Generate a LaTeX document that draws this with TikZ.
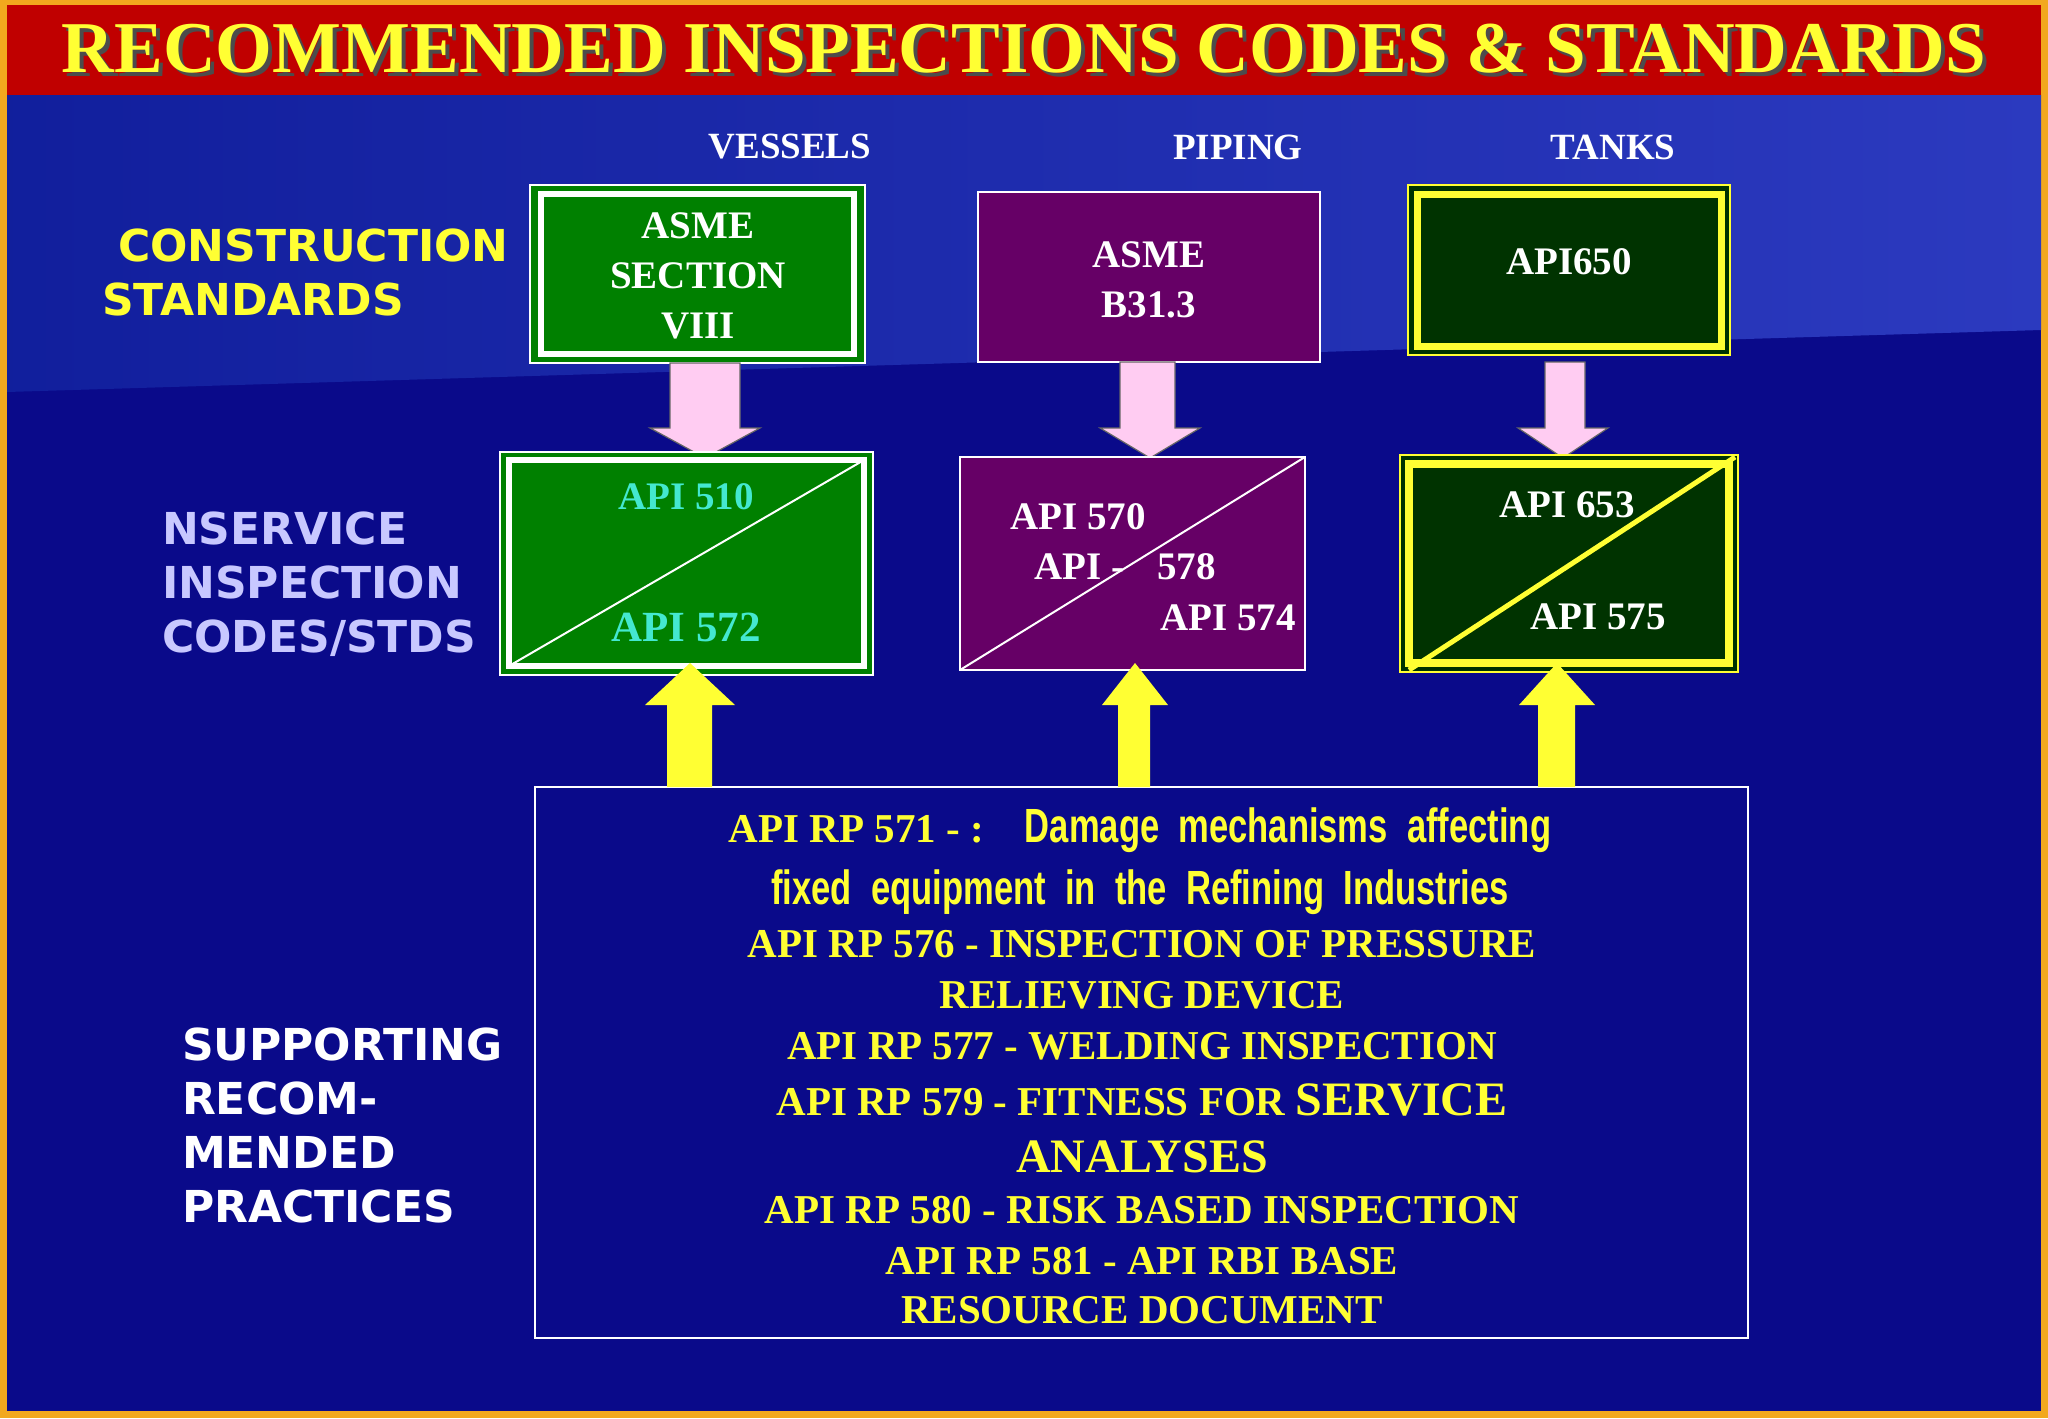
\documentclass[tikz,border=0pt]{standalone}
\usepackage{fontspec}
\setmainfont{Liberation Serif}
\newfontfamily\comic{DejaVu Sans}
\newfontfamily\narrow[FakeStretch=0.72]{Liberation Sans}
\usepackage{graphicx}
\definecolor{bgblue}{HTML}{0A0A8A}
\definecolor{upblue}{HTML}{1424B8}
\definecolor{frameor}{HTML}{F2A81E}
\definecolor{titlered}{HTML}{C00000}
\definecolor{ttlyel}{HTML}{FFFF33}
\definecolor{gbox}{HTML}{008000}
\definecolor{pbox}{HTML}{660066}
\definecolor{dgbox}{HTML}{003300}
\definecolor{pinkar}{HTML}{FFCCF2}
\definecolor{lav}{HTML}{C8C8FF}
\definecolor{cyanish}{HTML}{44E8D0}
\tikzset{
 hdr/.style={text=white,font=\bfseries\fontsize{18.5}{20}\selectfont},
 btxt/.style={text=white,font=\bfseries\fontsize{19.5}{25}\selectfont,align=center},
 ytxt/.style={text=ttlyel,font=\bfseries\fontsize{20.5}{22}\selectfont},
 side/.style={font=\comic\bfseries\fontsize{22}{27}\selectfont,align=left,anchor=west},
 pinkarrow/.style={fill=pinkar,draw=black!60,line width=0.6pt},
 yelarrow/.style={fill=ttlyel,draw=none},
}
\begin{document}
\begin{tikzpicture}[x=0.5pt,y=-0.5pt]
\useasboundingbox (0,0) rectangle (2048,1418);
\fill[frameor] (0,0) rectangle (2048,1418);
\fill[bgblue] (7,95) rectangle (2041,1411);
\shade[left color=upblue!85!black,right color=upblue!90!white] (7,95) -- (2041,95) -- (2041,330) -- (7,392) -- cycle;
\fill[titlered] (7,5) rectangle (2041,95);
\node (titleS) at (1028,53) {\resizebox{962pt}{!}{\textcolor{black!70}{\bfseries RECOMMENDED INSPECTIONS CODES \& STANDARDS}}};
\node (title) at (1024,49) {\resizebox{962pt}{!}{\textcolor{ttlyel}{\bfseries RECOMMENDED INSPECTIONS CODES \& STANDARDS}}};
% headers
\node[hdr] (hv) at (790,147) {VESSELS};
\node[hdr] (hp) at (1238,147) {PIPING};
\node[hdr] (ht) at (1613,147) {TANKS};
% side labels
\node[side,text=ttlyel] (s1) at (95,272) {\hspace*{8pt}CONSTRUCTION\\STANDARDS};
\node[side,text=lav] (s2) at (155,584) {NSERVICE\\INSPECTION\\CODES/STDS};
\node[side,text=white] (s3) at (175,1125) {SUPPORTING\\RECOM-\\MENDED\\PRACTICES};
% row 1
\draw[white,line width=1pt,fill=gbox] (530,185) rectangle (865,363);
\draw[white,line width=3pt] (541,194) rectangle (854,354);
\node[btxt] (b1) at (698,276) {ASME\\SECTION\\VIII};
\draw[white,line width=1pt,fill=pbox] (978,192) rectangle (1320,362);
\node[btxt] (b2) at (1149,280) {ASME\\B31.3};
\draw[ttlyel,line width=1pt,fill=dgbox] (1408,185) rectangle (1730,355);
\draw[ttlyel,line width=3.5pt] (1417,194) rectangle (1721,346);
\node[btxt] (b3) at (1569,262) {API650};
% pink arrows
\draw[pinkarrow] (670,363) -- (740,363) -- (740,428) -- (760,428) -- (705,458) -- (650,428) -- (670,428) -- cycle;
\draw[pinkarrow] (1120,362) -- (1175,362) -- (1175,428) -- (1200,428) -- (1150,458) -- (1100,428) -- (1120,428) -- cycle;
\draw[pinkarrow] (1545,362) -- (1585,362) -- (1585,428) -- (1608,428) -- (1563,458) -- (1518,428) -- (1545,428) -- cycle;
% row 2
\draw[white,line width=1pt,fill=gbox] (500,452) rectangle (873,675);
\draw[white,line width=3pt] (509,460) rectangle (864,666);
\draw[white,line width=1pt] (509,666) -- (864,460);
\node[btxt,text=cyanish] (c1) at (686,497) {API 510};
\node[btxt,text=cyanish,font=\bfseries\fontsize{21.5}{23}\selectfont] (c2) at (686,627) {API 572};
\draw[white,line width=1pt,fill=pbox] (960,457) rectangle (1305,670);
\draw[white,line width=1pt] (960,670) -- (1305,457);
\node[btxt] (c3) at (1078,517) {API 570};
\node[btxt] (c4) at (1125,567) {API -\hspace{0.6em} 578};
\node[btxt] (c5) at (1228,618) {API 574};
\draw[ttlyel,line width=1pt,fill=dgbox] (1400,455) rectangle (1738,672);
\draw[ttlyel,line width=4pt] (1409,464) rectangle (1729,663);
\draw[ttlyel,line width=2.5pt] (1409,670) -- (1735,457);
\node[btxt] (c6) at (1567,505) {API 653};
\node[btxt] (c7) at (1598,617) {API 575};
% big box
\draw[white,line width=1pt,fill=bgblue] (535,787) rectangle (1748,1338);
% yellow arrows
\fill[yelarrow] (667,787) -- (712,787) -- (712,705) -- (735,705) -- (690,663) -- (645,705) -- (667,705) -- cycle;
\fill[yelarrow] (1118,787) -- (1150,787) -- (1150,705) -- (1168,705) -- (1135,663) -- (1102,705) -- (1118,705) -- cycle;
\fill[yelarrow] (1538,787) -- (1575,787) -- (1575,705) -- (1595,705) -- (1557,663) -- (1519,705) -- (1538,705) -- cycle;
% text
\node[ytxt] (t1) at (1140,830) {API RP 571 - :\hspace{1em}{\narrow\fontsize{24}{26}\selectfont Damage\ \ mechanisms\ \ affecting}};
\node[ytxt] (t2) at (1140,892) {{\narrow\fontsize{24}{26}\selectfont fixed\ \ equipment\ \ in\ \ the\ \ Refining\ \ Industries}};
\node[ytxt] (t3) at (1142,944) {API RP 576 - INSPECTION OF PRESSURE};
\node[ytxt] (t4) at (1142,995) {RELIEVING DEVICE};
\node[ytxt] (t5) at (1142,1046) {API RP 577 - WELDING INSPECTION};
\node[ytxt] (t6) at (1142,1100) {API RP 579 - FITNESS FOR {\fontsize{24}{26}\selectfont SERVICE}};
\node[ytxt,font=\bfseries\fontsize{24}{26}\selectfont] (t7) at (1142,1157) {ANALYSES};
\node[ytxt] (t8) at (1142,1210) {API RP 580 - RISK BASED INSPECTION};
\node[ytxt] (t9) at (1142,1261) {API RP 581 - API RBI BASE};
\node[ytxt] (t10) at (1142,1310) {RESOURCE DOCUMENT};
\end{tikzpicture}
\end{document}
